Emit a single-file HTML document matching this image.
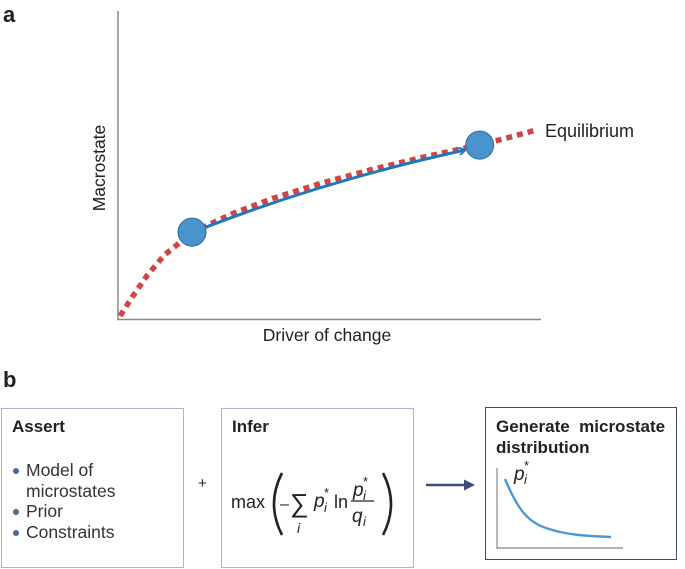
<!DOCTYPE html>
<html><head><meta charset="utf-8"><style>
body{margin:0;background:#fff;width:685px;height:561px;overflow:hidden;font-family:"Liberation Sans",sans-serif;position:relative}
.t{position:absolute;color:#222;white-space:nowrap}
.box{position:absolute;border:1.5px solid #a9b6cc;box-sizing:border-box}
.li{position:absolute;left:24px;font-size:17.5px;color:#333;line-height:20px;white-space:nowrap}
.dot{position:absolute;left:-13px;top:8px;width:6px;height:6px;border-radius:50%;background:#4a6a9a}
</style></head><body>
<div class="t" style="left:3px;top:2px;font-size:22px;font-weight:bold">a</div>
<svg id="chart" width="685" height="360" style="position:absolute;left:0;top:0">
<defs><marker id="ah" markerWidth="8" markerHeight="8" refX="6" refY="4" orient="auto" markerUnits="userSpaceOnUse"><path d="M0,0 L7,4 L0,8" fill="none" stroke="#1f78bd" stroke-width="1.8"/></marker></defs>
<line x1="118" y1="11" x2="118" y2="320" stroke="#888" stroke-width="1.5"/>
<line x1="117" y1="319.5" x2="541" y2="319.5" stroke="#888" stroke-width="1.5"/>
<text transform="translate(105,168) rotate(-90)" text-anchor="middle" font-size="17.5" fill="#222" font-family="Liberation Sans">Macrostate</text>
<text x="327" y="341" text-anchor="middle" font-size="17.5" fill="#222" font-family="Liberation Sans">Driver of change</text>
<text x="545" y="137" font-size="18" fill="#222" font-family="Liberation Sans">Equilibrium</text>
</svg>
<script>
const driver=[0.5,3.5,7,11,15,18.5,27,36.5,48,60,72,83.5,91,99];
const macrostate=[1,7.5,14.5,21,25.5,29,34.5,39.5,44.5,49,53,56.5,59,62];
const startState=[17.5,28.5];
const endState=[85.5,57];
const X=v=>118+v*4.23, Y=v=>319-v*3.05;
const svg=document.getElementById('chart');
const NS='http://www.w3.org/2000/svg';
let d='';
driver.forEach((v,i)=>{d+=(i?' L':'M')+X(v)+','+Y(macrostate[i]);});
const p=document.createElementNS(NS,'path');
p.setAttribute('d',d);p.setAttribute('fill','none');p.setAttribute('stroke','#d04545');p.setAttribute('stroke-width','5.5');p.setAttribute('stroke-dasharray','6 5');


svg.appendChild(p);
const a=document.createElementNS(NS,'path');
const sx=X(startState[0])+14,sy=Y(startState[1])-5,ex=X(endState[0])-15,ey=Y(endState[1])+5;
a.setAttribute('d',`M${sx},${sy} Q${(sx+ex)/2-6},${(sy+ey)/2-9} ${ex},${ey}`);
a.setAttribute('fill','none');a.setAttribute('stroke','#1f78bd');a.setAttribute('stroke-width','3');a.setAttribute('marker-end','url(#ah)');


svg.appendChild(a);
[startState,endState].forEach((s,i)=>{
const c=document.createElementNS(NS,'circle');
c.setAttribute('cx',X(s[0]));c.setAttribute('cy',Y(s[1]));c.setAttribute('r','14');c.setAttribute('fill','#4a94cd');c.setAttribute('stroke','#2a6aa8');c.setAttribute('stroke-width','1');


svg.appendChild(c);});
</script>
<div class="t" style="left:3px;top:367px;font-size:22px;font-weight:bold">b</div>
<div class="box" style="left:1px;top:408px;width:183px;height:160px">
<div class="t" style="left:10px;top:8px;font-size:17px;font-weight:bold">Assert</div>
<div class="li" style="top:51px"><span class="dot"></span>Model of</div>
<div class="li" style="top:72px">microstates</div>
<div class="li" style="top:92px"><span class="dot"></span>Prior</div>
<div class="li" style="top:113px"><span class="dot"></span>Constraints</div>
</div>
<div class="t" style="left:198px;top:475px;font-size:15px">+</div>
<div class="box" style="left:221px;top:408px;width:193px;height:160px">
<div class="t" style="left:10px;top:8px;font-size:17px;font-weight:bold">Infer</div>
<svg width="193" height="110" style="position:absolute;left:0;top:50px" font-family="Liberation Sans">
<text x="9" y="49" font-size="18" fill="#222">max</text>
<path d="M60,14 Q44,45 60,76" fill="none" stroke="#222" stroke-width="2.6"/>
<text x="58" y="50" font-size="16" fill="#222">–</text>
<text x="68" y="53" font-size="26" fill="#222">∑</text>
<text x="75" y="74" font-size="14" font-style="italic" fill="#222">i</text>
<text x="92" y="48" font-size="19" font-style="italic" fill="#222">p</text>
<text x="102" y="38" font-size="13" fill="#222">*</text><text x="102" y="53" font-size="13" font-style="italic" fill="#222">i</text>
<text x="112" y="49" font-size="18" fill="#222">ln</text>
<text x="131" y="37" font-size="19" font-style="italic" fill="#222">p</text>
<text x="141" y="27" font-size="13" fill="#222">*</text><text x="141" y="41" font-size="13" font-style="italic" fill="#222">i</text>
<line x1="129" y1="42" x2="152" y2="42" stroke="#222" stroke-width="1.2"/>
<text x="130" y="63" font-size="19" font-style="italic" fill="#222">q</text><text x="141" y="67" font-size="13" font-style="italic" fill="#222">i</text>
<path d="M161,14 Q177,45 161,76" fill="none" stroke="#222" stroke-width="2.6"/>
</svg>
</div>
<svg width="52" height="12" style="position:absolute;left:426px;top:479px"><line x1="0" y1="6" x2="40" y2="6" stroke="#3a4e78" stroke-width="2.5"/><path d="M38,0.5 L49,6 L38,11.5Z" fill="#3a4e78"/></svg>
<div class="box" style="left:485px;top:407px;width:192px;height:153px;border-color:#3c4d6e">
<div class="t" style="left:10px;top:8px;font-size:17px;font-weight:bold;line-height:21px">Generate&nbsp; microstate<br>distribution</div>
<svg width="190" height="100" style="position:absolute;left:0;top:52px" font-family="Liberation Sans">
<line x1="11" y1="8" x2="11" y2="89" stroke="#888" stroke-width="1.2"/>
<line x1="11" y1="88" x2="137" y2="88" stroke="#888" stroke-width="1.2"/>
<text x="28" y="20" font-size="19" font-style="italic" fill="#222">p</text>
<text x="38" y="10" font-size="13" fill="#222">*</text><text x="38" y="24" font-size="13" font-style="italic" fill="#222">i</text>
<path d="M19,19 C32,50 42,62 60,68 C80,75 100,76 125,77" fill="none" stroke="#4a9ad6" stroke-width="2.4"/>
</svg>
</div>
</body></html>
